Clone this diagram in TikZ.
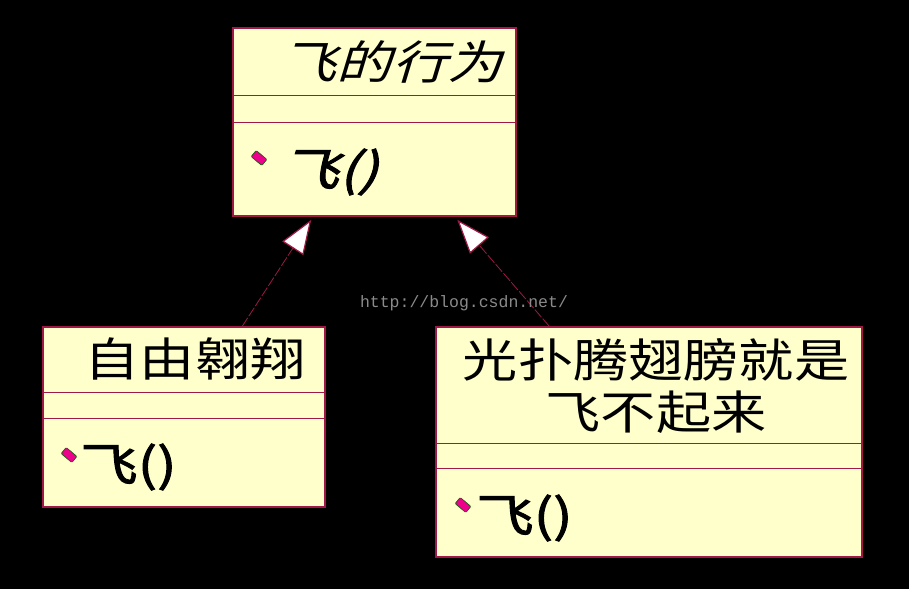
\documentclass[tikz,border=0pt]{standalone}
\usepackage{fontspec}
\newfontfamily\cjk{Noto Sans CJK SC}
\newfontfamily\cjkit[FakeSlant=0.25]{Noto Sans CJK SC}
\newfontfamily\cjkbf[FakeBold=1.8]{Noto Sans CJK SC}
\newfontfamily\cjkbfit[FakeBold=1.8,FakeSlant=0.25]{Noto Sans CJK SC}
\newfontfamily\wmfont{Liberation Mono}
\usetikzlibrary{arrows.meta}
\definecolor{boxfill}{HTML}{FFFFCC}
\definecolor{umlred}{HTML}{A01848}
\definecolor{wmgray}{HTML}{8A8A8A}
\begin{document}
\begin{tikzpicture}[x=1pt,y=-1pt,
  classbox/.style={draw=umlred, fill=boxfill, line width=1.5pt, inner sep=0pt},
  divider/.style={draw=umlred, line width=1pt},
  titletext/.style={inner sep=0pt, font=\cjk\fontsize{46}{52}\selectfont, xscale=1.2, align=center},
  optext/.style={inner sep=0pt, anchor=west, font=\cjkbf\fontsize{46}{50}\selectfont, xscale=1.25},
  opicon/.style={fill=magenta, draw=green!40!black, line width=0.6pt, rotate=-40, minimum width=14pt, minimum height=8pt, inner sep=0pt, rounded corners=1pt},
  realize/.style={draw=umlred, line width=0.8pt, dash pattern=on 10pt off 2pt,
     -{Triangle[open, fill=white, length=34pt, width=25pt, line width=1.2pt]}}
]
\fill[black] (0,0) rectangle (909,589);
\useasboundingbox (0,0) rectangle (909,589);

% top interface box
\node[classbox, minimum width=283pt, minimum height=188pt] (top) at (374.5,122) {};
\draw[divider] ([yshift=-68.5pt]top.north west) -- ([yshift=-68.5pt]top.north east);
\draw[divider] ([yshift=-95pt]top.north west) -- ([yshift=-95pt]top.north east);
\node[titletext, font=\cjkit\fontsize{46}{52}\selectfont] (toptitle) at (392,62) {飞的行为};
\node[opicon] (topicon) at (259,158) {};
\node[optext, font=\cjkbfit\fontsize{46}{50}\selectfont] (topop) at (281,172) {飞()};

% left class
\node[classbox, minimum width=282pt, minimum height=180pt] (left) at (184,417) {};
\draw[divider] ([yshift=-66pt]left.north west) -- ([yshift=-66pt]left.north east);
\draw[divider] ([yshift=-92pt]left.north west) -- ([yshift=-92pt]left.north east);
\node[titletext] (lefttitle) at (195,359) {自由翱翔};
\node[opicon] (lefticon) at (69,455) {};
\node[optext] (leftop) at (80,467) {飞()};

% right class
\node[classbox, minimum width=426pt, minimum height=230pt] (right) at (649,442) {};
\draw[divider] ([yshift=-117pt]right.north west) -- ([yshift=-117pt]right.north east);
\draw[divider] ([yshift=-142pt]right.north west) -- ([yshift=-142pt]right.north east);
\node[titletext] (righttitle) at (656,386) {光扑腾翅膀就是\\飞不起来};
\node[opicon] (righticon) at (463,505) {};
\node[optext] (rightop) at (476,518) {飞()};

% realization connectors
\draw[realize] ([xshift=200pt]left.north west) -- ([xshift=79pt,yshift=-3pt]top.south west);
\draw[realize] ([xshift=114pt]right.north west) -- ([xshift=225pt,yshift=-3pt]top.south west);

% watermark
\node[inner sep=0pt, text=wmgray, font=\wmfont\fontsize{16.5}{18}\selectfont] (wm) at (464,303) {http://blog.csdn.net/};
\end{tikzpicture}
\end{document}
